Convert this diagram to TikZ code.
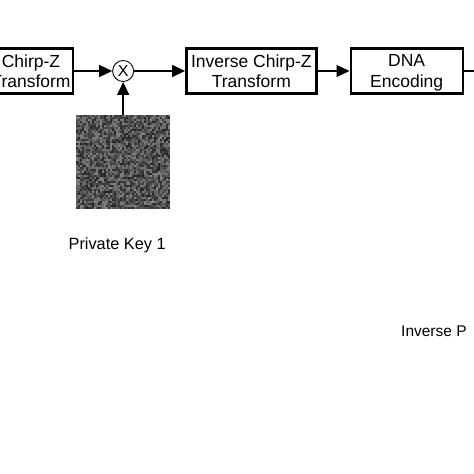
\documentclass[tikz,border=0pt]{standalone}
\usepackage{fontspec}
\setmainfont{Liberation Sans}
\usetikzlibrary{arrows.meta, positioning}

\begin{document}
\begin{tikzpicture}[
    x=1pt, y=-1pt,
    node distance=36pt and 36pt,
    block/.style={rectangle, draw, line width=2.4pt, minimum height=45pt, align=center, inner sep=2pt, text depth=0pt, font=\fontsize{17.5}{20.5}\selectfont},
    mixer/.style={circle, draw, line width=0.9pt, minimum size=21pt, inner sep=0pt, font=\fontsize{16}{18}\selectfont},
    noisebox/.style={rectangle, minimum width=94pt, minimum height=94pt, inner sep=0pt},
    caption/.style={inner sep=0pt, font=\fontsize{16.3}{19}\selectfont},
    arrow/.style={-{Triangle[length=13pt, width=12pt]}, line width=1.4pt}
]

    % Frame
    \path[use as bounding box, fill=white] (0,0) rectangle (474,474);
    \clip (0,0) rectangle (474,474);

    % Main chain
    \node[block, minimum width=84pt] (czt) at (31,71) {Chirp-Z\\Transform};
    \node[mixer, right=38pt of czt] (mult) {X};
    \node[block, minimum width=130pt, right=51pt of mult] (iczt) {Inverse Chirp-Z\\Transform};
    \node[block, minimum width=112pt, right=32pt of iczt] (dna) {DNA\\Encoding};
    \coordinate[right=40pt of dna] (exit);

    % Private key image
    \node[noisebox, below=33pt of mult] (key) {};
    \pgfmathsetseed{17}
    \begin{scope}[shift={(key.north west)}]
        \foreach \i in {0,...,46}
            \foreach \j in {0,...,46} {
                \pgfmathrandominteger{\g}{14}{52}
                \fill[white!\g!black] (2*\i,2*\j) rectangle ++(2,2);
            }
    \end{scope}

    % Arrows
    \draw[arrow] (czt) -- (mult);
    \draw[arrow] (mult) -- (iczt);
    \draw[arrow] (iczt) -- (dna);
    \draw[arrow] (dna) -- (exit);
    \draw[arrow] (key.north) -- (mult);

    % Labels
    \node[caption, below=28pt of key, xshift=-6pt] (keylabel) {Private Key 1};
    \node[caption, anchor=west, font=\fontsize{15.5}{18}\selectfont] (invlabel) at (401,331) {Inverse P};

\end{tikzpicture}
\end{document}
